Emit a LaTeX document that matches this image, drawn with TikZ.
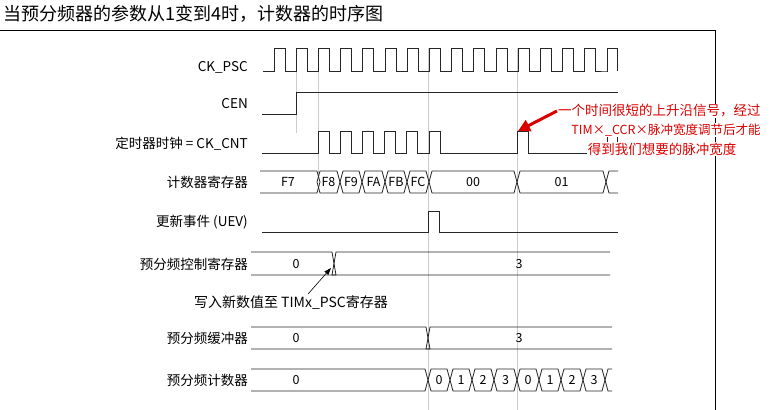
\documentclass[tikz,border=0pt]{standalone}
\usepackage{fontspec}
\setmainfont{Noto Sans CJK SC}
\usetikzlibrary{arrows.meta}
\newcommand\hexseg[5]{% a b top bot label
  \draw[sig] (#1,{(#3+#4)/2}) -- (#1+3,#3) -- (#2-3,#3) -- (#2,{(#3+#4)/2}) -- (#2-3,#4) -- (#1+3,#4) -- cycle;
  \node[val] at ({(#1+#2)/2},{(#3+#4)/2}) {#5};}
\begin{document}
\begin{tikzpicture}[x=1pt,y=-1pt,
  sig/.style={line width=0.8pt,black!85},
  grid/.style={line width=0.5pt,black!20},
  lab/.style={anchor=east,font=\fontsize{13.5}{14}\selectfont,inner sep=0},
  val/.style={font=\fontsize{12.5}{13}\selectfont,inner sep=0},
  red/.style={text=red!85!black,font=\fontsize{13.5}{15}\selectfont,fill=white,inner sep=1pt}]
\useasboundingbox (0,0) rectangle (772,410);
% frame
\draw[line width=0.8pt] (0,30) -- (715,30) -- (715,410);
\node[anchor=west,inner sep=0,font=\fontsize{18}{19}\selectfont] (title) at (3,14) {当预分频器的参数从1变到4时，计数器的时序图};
% grid lines
\draw[grid] (296,48) -- (296,133);
\draw[grid] (318,48) -- (318,175);
\draw[grid] (428,48) -- (428,410);
\draw[grid] (517,48) -- (517,410);
% labels
\node[lab] (l1) at (248,67) {CK\_PSC};
\node[lab] (l2) at (248,104) {CEN};
\node[lab] (l3) at (248,144) {定时器时钟 = CK\_CNT};
\node[lab] (l4) at (248,182) {计数器寄存器};
\node[lab] (l5) at (248,222) {更新事件 (UEV)};
\node[lab] (l6) at (248,264) {预分频控制寄存器};
\node[lab] (l7) at (248,338) {预分频缓冲器};
\node[lab] (l8) at (248,380) {预分频计数器};
% CK_PSC
\draw[sig] (263,71) -- (274,71)
  \foreach \i in {0,...,14} { -- ({274+22.2*\i},71) -- ({274+22.2*\i},48) -- ({285+22.2*\i},48) -- ({285+22.2*\i},71) -- ({296.2+22.2*\i},71)}
  -- (607,71) -- (607,48) -- (617,48) -- (617,71);
% CEN
\draw[sig] (262,114) -- (296,114) -- (296,92) -- (618,92);
% CK_CNT
\draw[sig] (262,153)
  \foreach \x in {318,340.2,362.4,384.6,406.8,429,517.8} { -- (\x,153) -- (\x,131) -- (\x+11,131) -- (\x+11,153)} -- (607,153) -- (607,131) -- (617,131) -- (617,153);
% counter register
\draw[sig] (260,171) -- (317,171) -- (320,182) -- (317,193) -- (260,193);
\node[val] at (288,182) {F7};
\hexseg{317}{340}{171}{193}{F8}
\hexseg{340}{362}{171}{193}{F9}
\hexseg{362}{385}{171}{193}{FA}
\hexseg{385}{407}{171}{193}{FB}
\hexseg{407}{429}{171}{193}{FC}
\hexseg{429}{517}{171}{193}{00}
\hexseg{517}{606}{171}{193}{01}
\draw[sig] (618,171) -- (609,171) -- (606,182) -- (609,193) -- (618,193);
% UEV
\draw[sig] (262,232) -- (428,232) -- (428,211) -- (439,211) -- (439,232) -- (618,232);
% prescaler control
\draw[sig] (251,252) -- (332,252) -- (336,275) -- (251,275);
\draw[sig] (610,252) -- (336,252) -- (332,275) -- (610,275);
\node[val] at (296,264) {0};
\node[val] at (519,264) {3};
\coordinate (wr) at (331,268);
\node[inner sep=1pt,font=\fontsize{14}{15}\selectfont] (note) at (291,303) {写入新数值至 TIMx\_PSC寄存器};
\draw[line width=0.6pt,-{Triangle[length=7pt,width=5pt]}] (308,294) -- (wr);
% prescaler buffer
\draw[sig] (251,327) -- (426,327) -- (430,349) -- (251,349);
\draw[sig] (612,327) -- (430,327) -- (426,349) -- (612,349);
\node[val] at (296,338) {0};
\node[val] at (519,338) {3};
% prescaler counter
\draw[sig] (251,369) -- (425,369) -- (428,380) -- (425,391) -- (251,391);
\node[val] at (296,380) {0};
\foreach \a/\b/\t in {428/450/0,450/472/1,472/494/2,494/517/3,517/539/0,539/561/1,561/583/2,583/605/3} {\hexseg{\a}{\b}{369}{391}{\t}}
\draw[sig] (612,369) -- (608,369) -- (605,380) -- (608,391) -- (612,391);
% red annotation
\node[red,anchor=west] (r1) at (557,111) {一个时间很短的上升沿信号，经过};
\node[red,font=\fontsize{12.5}{15}\selectfont] (r2) at (666,130) {TIM×\_CCR×脉冲宽度调节后才能};
\node[red] (r3) at (662,149) {得到我们想要的脉冲宽度};
\coordinate (rp) at (518,131);
\draw[red!85!black,line width=3pt,-{Triangle[length=12pt,width=12pt]}] (r1.west) -- (rp);
\end{tikzpicture}
\end{document}
